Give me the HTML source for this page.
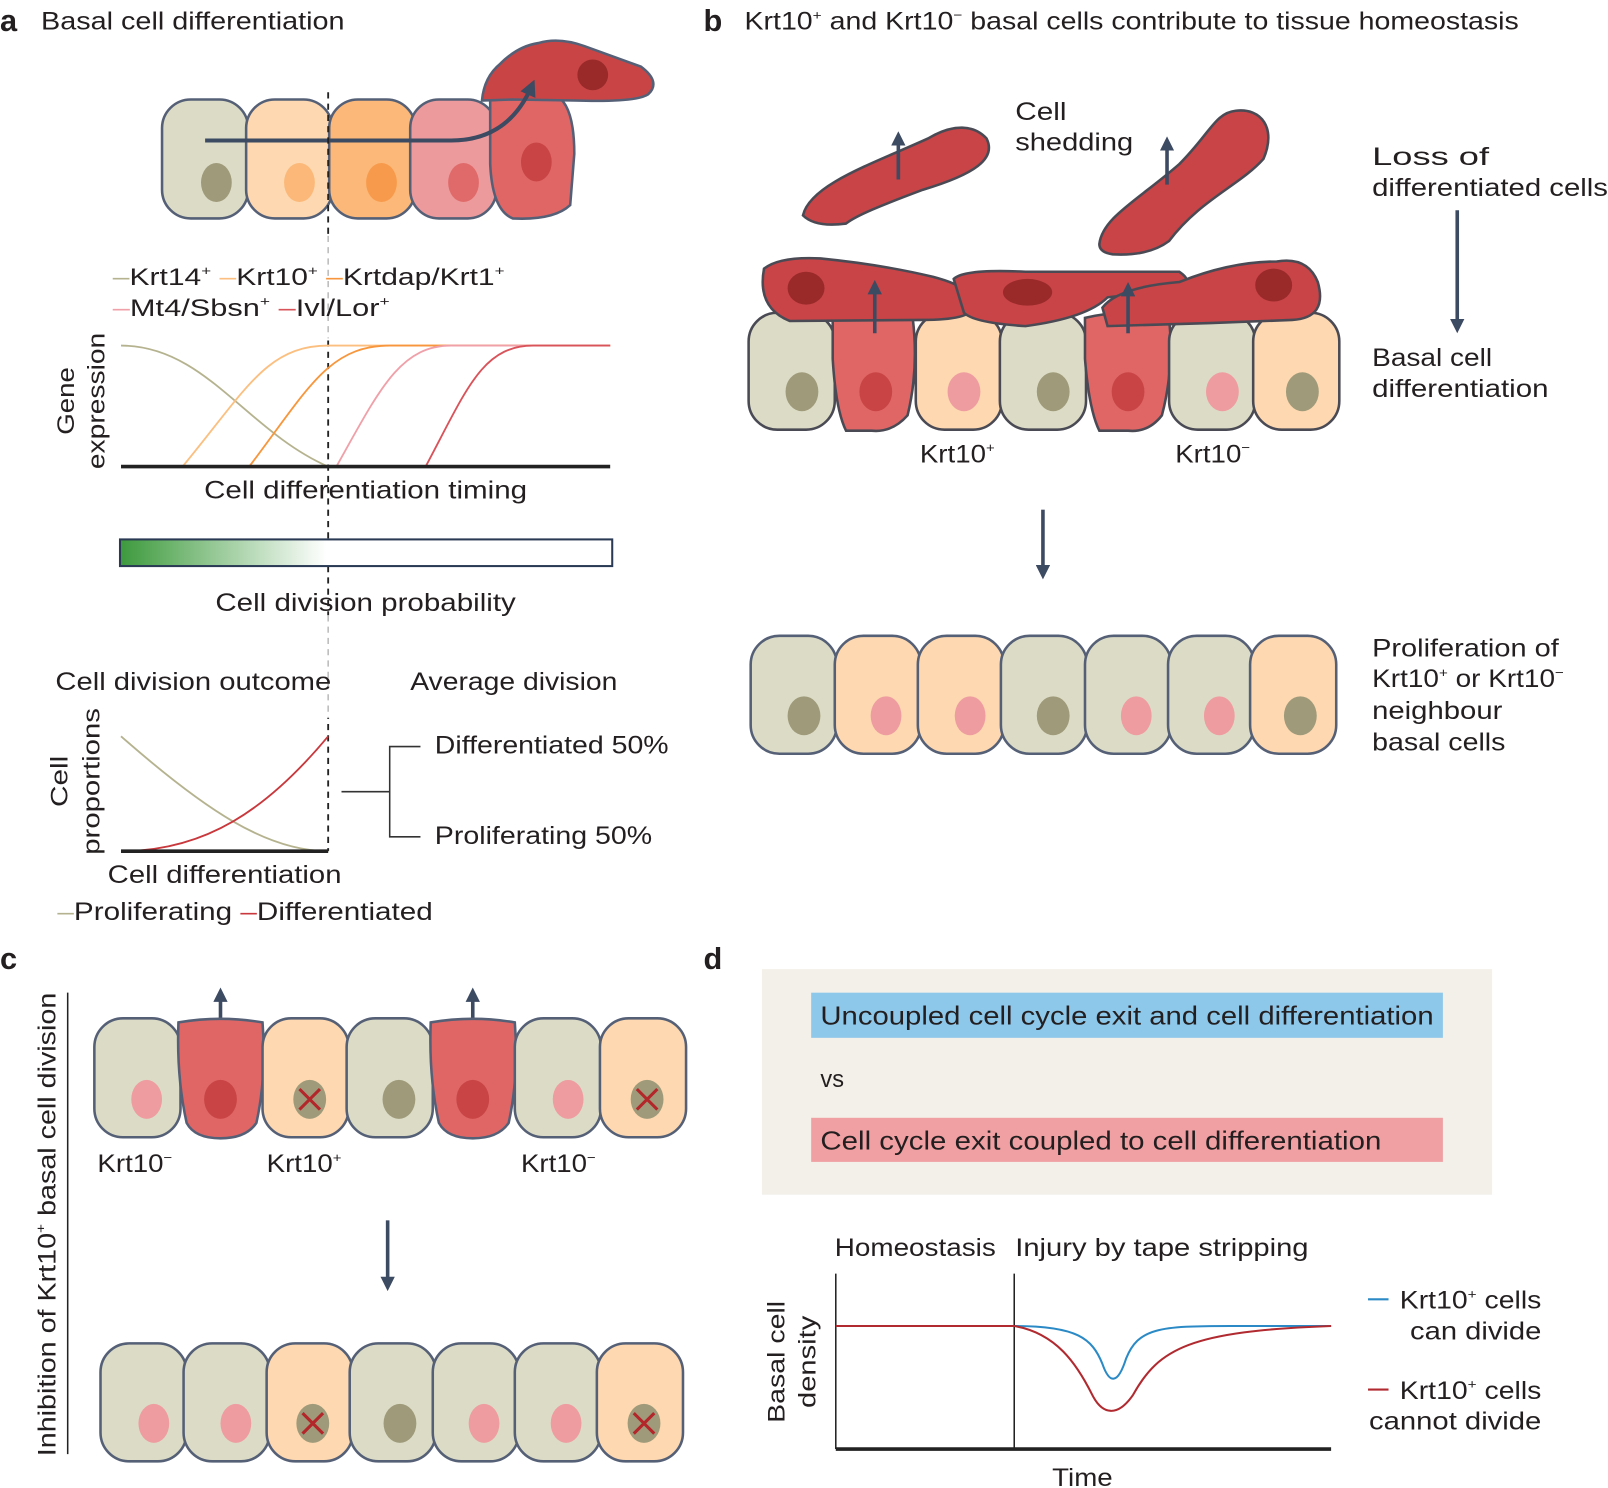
<!DOCTYPE html>
<html><head><meta charset="utf-8"><style>
html,body{margin:0;padding:0;background:#fff}
svg{display:block}
text{font-family:"Liberation Sans",sans-serif;fill:#231f20}
</style></head><body>
<svg width="1608" height="1488" viewBox="0 0 1568 1451" xmlns="http://www.w3.org/2000/svg">
<defs>
<linearGradient id="g1" x1="0" x2="1"><stop offset="0" stop-color="#3d9a3d"/><stop offset="0.42" stop-color="#ffffff"/><stop offset="1" stop-color="#fff"/></linearGradient>
<marker id="ah" viewBox="0 0 10 10" refX="5" refY="5" markerWidth="4" markerHeight="4" orient="auto"><path d="M0,0 L10,5 L0,10 Z" fill="#3c4a62"/></marker>
</defs>
<g stroke="#556077" stroke-width="2.5">
<rect x="158" y="97" width="84" height="116" rx="28" fill="#dcdcc6"/>
<rect x="240" y="97" width="84" height="116" rx="28" fill="#fdd8b0"/>
<rect x="321" y="97" width="84" height="116" rx="28" fill="#fbb878"/>
<rect x="400" y="97" width="84" height="116" rx="28" fill="#ec9a9c"/>
<path d="M478,98 L540,92 Q560,100 560,150 L556,200 Q540,215 500,213 Q480,205 478,160 Z" fill="#e06666"/>
<path d="M470,98 Q472,75 488,62 Q505,45 525,42 Q545,36 570,45 L625,65 Q645,80 632,92 Q620,100 560,98 L500,97 Z" fill="#c94545"/>
</g>
<g stroke="none">
<ellipse cx="211" cy="178" rx="15" ry="19" fill="#9e9a7a"/>
<ellipse cx="292" cy="178" rx="15" ry="19" fill="#fbb878"/>
<ellipse cx="372" cy="178" rx="15" ry="19" fill="#f79a4c"/>
<ellipse cx="452" cy="178" rx="15" ry="19" fill="#e06a6a"/>
<ellipse cx="523" cy="158" rx="15" ry="19" fill="#c94545"/>
<ellipse cx="578" cy="73" rx="15" ry="15" fill="#9a2a2a"/>
</g>
<path d="M200,137 L440,137 Q495,137 518,85" stroke="#3c4a62" stroke-width="4" fill="none" marker-end="url(#ah)"/>
<line x1="320" y1="90" x2="320" y2="830" stroke="#222" stroke-width="1.8" stroke-dasharray="6,5"/>
<line x1="320" y1="230" x2="320" y2="330" stroke="#fff" stroke-width="3"/>
<line x1="320" y1="230" x2="320" y2="330" stroke="#bbb" stroke-width="1.5" stroke-dasharray="6,5"/>
<line x1="320" y1="600" x2="320" y2="700" stroke="#fff" stroke-width="3"/>
<line x1="320" y1="600" x2="320" y2="700" stroke="#bbb" stroke-width="1.5" stroke-dasharray="6,5"/>
<text x="0" y="30" font-size="30" font-weight="bold">a</text>
<text x="40" y="29" font-size="24" textLength="296" lengthAdjust="spacingAndGlyphs">Basal cell differentiation</text>
<g font-size="23">
<text x="110" y="278" textLength="382" lengthAdjust="spacingAndGlyphs"><tspan fill="#b5b38f">–</tspan>Krt14<tspan font-size="13" dy="-10">+</tspan><tspan dy="10"> </tspan><tspan fill="#fbbf80">–</tspan>Krt10<tspan font-size="13" dy="-10">+</tspan><tspan dy="10">  </tspan><tspan fill="#f7963c">–</tspan>Krtdap/Krt1<tspan font-size="13" dy="-10">+</tspan></text>
<text x="110" y="308" textLength="270" lengthAdjust="spacingAndGlyphs"><tspan fill="#f0a0a8">–</tspan>Mt4/Sbsn<tspan font-size="13" dy="-10">+</tspan><tspan dy="10"> </tspan><tspan fill="#d9535a">–</tspan>Ivl/Lor<tspan font-size="13" dy="-10">+</tspan></text>
</g>
<g fill="none" stroke-width="1.8">
<path d="M118,337 C200,337 240,420 320,455" stroke="#b5b38f"/>
<path d="M178,455 C240,380 260,337 320,337 L595,337" stroke="#fbbf80"/>
<path d="M243,455 C300,380 320,337 380,337 L595,337" stroke="#f7963c"/>
<path d="M328,455 C370,380 390,337 440,337 L595,337" stroke="#f0a0a8"/>
<path d="M415,455 C455,380 470,337 520,337 L595,337" stroke="#d9535a"/>
<path d="M118,718 C200,790 260,830 320,830" stroke="#b5b38f"/>
<path d="M118,830 C200,830 260,790 320,718" stroke="#c8383c"/>
</g>
<line x1="118" y1="455" x2="595" y2="455" stroke="#222" stroke-width="3.5"/>
<line x1="118" y1="830" x2="320" y2="830" stroke="#222" stroke-width="3.5"/>
<text transform="translate(72,391) rotate(-90)" font-size="23" text-anchor="middle" textLength="66" lengthAdjust="spacingAndGlyphs">Gene</text>
<text transform="translate(102,391) rotate(-90)" font-size="23" text-anchor="middle" textLength="133" lengthAdjust="spacingAndGlyphs">expression</text>
<text x="199" y="486" font-size="24" textLength="315" lengthAdjust="spacingAndGlyphs">Cell differentiation timing</text>
<rect x="117" y="526" width="480" height="26" fill="url(#g1)" stroke="#2a3a55" stroke-width="2"/>
<text x="210" y="596" font-size="24" textLength="293" lengthAdjust="spacingAndGlyphs">Cell division probability</text>
<text x="54" y="673" font-size="24" textLength="269" lengthAdjust="spacingAndGlyphs">Cell division outcome</text>
<text x="400" y="673" font-size="24" textLength="202" lengthAdjust="spacingAndGlyphs">Average division</text>
<text transform="translate(66,762) rotate(-90)" font-size="23" text-anchor="middle" textLength="50" lengthAdjust="spacingAndGlyphs">Cell</text>
<text transform="translate(97,762) rotate(-90)" font-size="23" text-anchor="middle" textLength="143" lengthAdjust="spacingAndGlyphs">proportions</text>
<path d="M333,772 L380,772 M410,728 L380,728 L380,816 L410,816" stroke="#333" stroke-width="1.5" fill="none"/>
<text x="424" y="735" font-size="24" textLength="228" lengthAdjust="spacingAndGlyphs">Differentiated 50%</text>
<text x="424" y="823" font-size="24" textLength="212" lengthAdjust="spacingAndGlyphs">Proliferating 50%</text>
<text x="105" y="861" font-size="24" textLength="228" lengthAdjust="spacingAndGlyphs">Cell differentiation</text>
<text x="56" y="897" font-size="24" textLength="366" lengthAdjust="spacingAndGlyphs"><tspan fill="#b5b38f">–</tspan>Proliferating <tspan fill="#c8383c">–</tspan>Differentiated</text>

<text x="686" y="30" font-size="30" font-weight="bold">b</text>
<text x="726" y="29" font-size="24" textLength="755" lengthAdjust="spacingAndGlyphs">Krt10<tspan font-size="13" dy="-10">+</tspan><tspan dy="10"> and Krt10</tspan><tspan font-size="13" dy="-10">−</tspan><tspan dy="10"> basal cells contribute to tissue homeostasis</tspan></text>
<g stroke="#4a4a55" stroke-width="2.5">
<path d="M783,210 C790,180 850,160 905,135 C930,120 950,122 962,135 C972,155 950,170 900,185 C860,200 835,210 825,218 Q795,222 783,210 Z" fill="#c84447"/>
<path d="M1072,238 C1075,212 1110,195 1150,160 C1180,130 1185,110 1205,108 C1230,105 1245,125 1232,155 C1210,180 1170,195 1140,235 Q1120,250 1085,248 Q1072,246 1072,238 Z" fill="#c84447"/>
<rect x="730" y="305" width="84" height="114" rx="28" fill="#dcdcc6"/>
<path d="M812,310 Q850,300 890,310 Q896,360 885,405 Q870,422 850,420 L825,420 Q815,400 812,350 Z" fill="#e06666"/>
<rect x="893" y="305" width="84" height="114" rx="28" fill="#fdd8b0"/>
<rect x="975" y="305" width="84" height="114" rx="28" fill="#dcdcc6"/>
<path d="M1058,310 Q1100,300 1140,310 Q1145,360 1133,405 Q1120,422 1100,420 L1072,420 Q1062,400 1058,350 Z" fill="#e06666"/>
<rect x="1140" y="305" width="84" height="114" rx="28" fill="#dcdcc6"/>
<rect x="1222" y="305" width="84" height="114" rx="28" fill="#fdd8b0"/>
<path d="M745,262 Q760,250 800,252 Q860,258 910,270 Q955,282 950,300 Q945,312 900,312 L770,313 Q738,300 745,262 Z" fill="#c84447"/>
<path d="M930,272 Q940,262 1000,265 L1150,265 Q1165,275 1150,282 L1080,290 Q1060,310 1000,318 Q950,315 940,305 Z" fill="#c84447"/>
<path d="M1075,300 Q1090,280 1150,275 Q1200,255 1245,255 Q1275,250 1285,275 Q1295,310 1260,312 L1180,315 L1080,318 Z" fill="#c84447"/>
</g>
<g stroke="none">
<ellipse cx="786" cy="281" rx="18" ry="16" fill="#9a2a2a"/>
<ellipse cx="1002" cy="285" rx="24" ry="13" fill="#9a2a2a"/>
<ellipse cx="1242" cy="278" rx="18" ry="16" fill="#9a2a2a"/>
<ellipse cx="782" cy="382" rx="16" ry="19" fill="#9e9a7a"/>
<ellipse cx="854" cy="382" rx="16" ry="19" fill="#c94545"/>
<ellipse cx="940" cy="382" rx="16" ry="19" fill="#ee9ca0"/>
<ellipse cx="1027" cy="382" rx="16" ry="19" fill="#9e9a7a"/>
<ellipse cx="1100" cy="382" rx="16" ry="19" fill="#c94545"/>
<ellipse cx="1192" cy="382" rx="16" ry="19" fill="#ee9ca0"/>
<ellipse cx="1270" cy="382" rx="16" ry="19" fill="#9e9a7a"/>
</g>
<g stroke="#3c4a62" stroke-width="3.5" marker-end="url(#ah)">
<line x1="876" y1="175" x2="876" y2="135"/>
<line x1="1138" y1="180" x2="1138" y2="140"/>
<line x1="853" y1="325" x2="853" y2="280"/>
<line x1="1100" y1="325" x2="1100" y2="282"/>
<line x1="1421" y1="205" x2="1421" y2="318"/>
<line x1="1017" y1="497" x2="1017" y2="558"/>
<line x1="378" y1="1190" x2="378" y2="1252"/>
<line x1="215" y1="1012" x2="215" y2="970"/>
<line x1="461" y1="1012" x2="461" y2="970"/>
</g>
<g font-size="24">
<text x="990" y="117" textLength="50" lengthAdjust="spacingAndGlyphs">Cell</text>
<text x="990" y="147" textLength="115" lengthAdjust="spacingAndGlyphs">shedding</text>
<text x="897" y="451" textLength="73" lengthAdjust="spacingAndGlyphs">Krt10<tspan font-size="13" dy="-10">+</tspan></text>
<text x="1146" y="451" textLength="73" lengthAdjust="spacingAndGlyphs">Krt10<tspan font-size="13" dy="-10">−</tspan></text>
<text x="1338" y="161" textLength="114" lengthAdjust="spacingAndGlyphs">Loss of</text>
<text x="1338" y="191" textLength="230" lengthAdjust="spacingAndGlyphs">differentiated cells</text>
<text x="1338" y="357" textLength="117" lengthAdjust="spacingAndGlyphs">Basal cell</text>
<text x="1338" y="387" textLength="172" lengthAdjust="spacingAndGlyphs">differentiation</text>
<text x="1338" y="640" textLength="182" lengthAdjust="spacingAndGlyphs">Proliferation of</text>
<text x="1338" y="670" textLength="187" lengthAdjust="spacingAndGlyphs">Krt10<tspan font-size="13" dy="-10">+</tspan><tspan dy="10"> or Krt10</tspan><tspan font-size="13" dy="-10">−</tspan></text>
<text x="1338" y="701" textLength="127" lengthAdjust="spacingAndGlyphs">neighbour</text>
<text x="1338" y="732" textLength="130" lengthAdjust="spacingAndGlyphs">basal cells</text>
</g>
<g stroke="#556077" stroke-width="2.5">
<rect x="732" y="620" width="84" height="115" rx="28" fill="#dcdcc6"/>
<rect x="814" y="620" width="84" height="115" rx="28" fill="#fdd8b0"/>
<rect x="895" y="620" width="84" height="115" rx="28" fill="#fdd8b0"/>
<rect x="976" y="620" width="84" height="115" rx="28" fill="#dcdcc6"/>
<rect x="1058" y="620" width="84" height="115" rx="28" fill="#dcdcc6"/>
<rect x="1139" y="620" width="84" height="115" rx="28" fill="#dcdcc6"/>
<rect x="1219" y="620" width="84" height="115" rx="28" fill="#fdd8b0"/>
</g>
<g stroke="none">
<ellipse cx="784" cy="698" rx="16" ry="19" fill="#9e9a7a"/>
<ellipse cx="864" cy="698" rx="15" ry="19" fill="#ee9ca0"/>
<ellipse cx="946" cy="698" rx="15" ry="19" fill="#ee9ca0"/>
<ellipse cx="1027" cy="698" rx="16" ry="19" fill="#9e9a7a"/>
<ellipse cx="1108" cy="698" rx="15" ry="19" fill="#ee9ca0"/>
<ellipse cx="1189" cy="698" rx="15" ry="19" fill="#ee9ca0"/>
<ellipse cx="1268" cy="698" rx="16" ry="19" fill="#9e9a7a"/>
</g>

<text x="0" y="945" font-size="30" font-weight="bold">c</text>
<line x1="66" y1="968" x2="66" y2="1418" stroke="#222" stroke-width="1.5"/>
<text transform="translate(54,1194) rotate(-90)" font-size="24" text-anchor="middle" textLength="452" lengthAdjust="spacingAndGlyphs">Inhibition of Krt10<tspan font-size="13" dy="-10">+</tspan><tspan dy="10"> basal cell division</tspan></text>
<g stroke="#556077" stroke-width="2.5">
<rect x="92" y="993" width="84" height="116" rx="28" fill="#dcdcc6"/>
<path d="M174,997 Q215,990 256,997 Q260,1050 250,1095 Q240,1110 215,1110 Q190,1110 182,1095 Q172,1050 174,997 Z" fill="#e06666"/>
<rect x="256" y="993" width="84" height="116" rx="28" fill="#fdd8b0"/>
<rect x="338" y="993" width="84" height="116" rx="28" fill="#dcdcc6"/>
<path d="M420,997 Q461,990 502,997 Q506,1050 496,1095 Q486,1110 461,1110 Q436,1110 428,1095 Q418,1050 420,997 Z" fill="#e06666"/>
<rect x="502" y="993" width="84" height="116" rx="28" fill="#dcdcc6"/>
<rect x="585" y="993" width="84" height="116" rx="28" fill="#fdd8b0"/>
<rect x="98" y="1310" width="84" height="115" rx="28" fill="#dcdcc6"/>
<rect x="179" y="1310" width="84" height="115" rx="28" fill="#dcdcc6"/>
<rect x="260" y="1310" width="84" height="115" rx="28" fill="#fdd8b0"/>
<rect x="341" y="1310" width="84" height="115" rx="28" fill="#dcdcc6"/>
<rect x="422" y="1310" width="84" height="115" rx="28" fill="#dcdcc6"/>
<rect x="502" y="1310" width="84" height="115" rx="28" fill="#dcdcc6"/>
<rect x="582" y="1310" width="84" height="115" rx="28" fill="#fdd8b0"/>
</g>
<g stroke="none">
<ellipse cx="143" cy="1072" rx="15" ry="19" fill="#ee9ca0"/>
<ellipse cx="215" cy="1072" rx="16" ry="19" fill="#c94545"/>
<ellipse cx="302" cy="1072" rx="16" ry="19" fill="#9e9a7a"/>
<ellipse cx="389" cy="1072" rx="16" ry="19" fill="#9e9a7a"/>
<ellipse cx="461" cy="1072" rx="16" ry="19" fill="#c94545"/>
<ellipse cx="554" cy="1072" rx="15" ry="19" fill="#ee9ca0"/>
<ellipse cx="631" cy="1072" rx="16" ry="19" fill="#9e9a7a"/>
<ellipse cx="150" cy="1388" rx="15" ry="19" fill="#ee9ca0"/>
<ellipse cx="230" cy="1388" rx="15" ry="19" fill="#ee9ca0"/>
<ellipse cx="305" cy="1388" rx="16" ry="19" fill="#9e9a7a"/>
<ellipse cx="390" cy="1388" rx="16" ry="19" fill="#9e9a7a"/>
<ellipse cx="472" cy="1388" rx="15" ry="19" fill="#ee9ca0"/>
<ellipse cx="552" cy="1388" rx="15" ry="19" fill="#ee9ca0"/>
<ellipse cx="628" cy="1388" rx="16" ry="19" fill="#9e9a7a"/>
</g>
<g stroke="#b3262a" stroke-width="3">
<path d="M292,1062 L312,1082 M312,1062 L292,1082"/>
<path d="M621,1062 L641,1082 M641,1062 L621,1082"/>
<path d="M295,1378 L315,1398 M315,1378 L295,1398"/>
<path d="M618,1378 L638,1398 M638,1378 L618,1398"/>
</g>
<g font-size="24">
<text x="95" y="1143" textLength="73" lengthAdjust="spacingAndGlyphs">Krt10<tspan font-size="13" dy="-10">−</tspan></text>
<text x="260" y="1143" textLength="73" lengthAdjust="spacingAndGlyphs">Krt10<tspan font-size="13" dy="-10">+</tspan></text>
<text x="508" y="1143" textLength="73" lengthAdjust="spacingAndGlyphs">Krt10<tspan font-size="13" dy="-10">−</tspan></text>
</g>

<text x="686" y="945" font-size="30" font-weight="bold">d</text>
<rect x="743" y="945" width="712" height="220" fill="#f3f0e9"/>
<rect x="791" y="968" width="616" height="44" fill="#8dc7ea"/>
<text x="800" y="999" font-size="25" textLength="598" lengthAdjust="spacingAndGlyphs">Uncoupled cell cycle exit and cell differentiation</text>
<text x="800" y="1060" font-size="23">vs</text>
<rect x="791" y="1090" width="616" height="43" fill="#f0a0a2"/>
<text x="800" y="1121" font-size="25" textLength="547" lengthAdjust="spacingAndGlyphs">Cell cycle exit coupled to cell differentiation</text>
<text x="814" y="1225" font-size="24" textLength="157" lengthAdjust="spacingAndGlyphs">Homeostasis</text>
<text x="990" y="1225" font-size="24" textLength="286" lengthAdjust="spacingAndGlyphs">Injury by tape stripping</text>
<line x1="815" y1="1242" x2="815" y2="1413" stroke="#222" stroke-width="1.5"/>
<line x1="989" y1="1242" x2="989" y2="1413" stroke="#222" stroke-width="1.5"/>
<line x1="815" y1="1413" x2="1298" y2="1413" stroke="#222" stroke-width="3.5"/>
<path d="M989,1293 C1050,1293 1065,1305 1075,1330 C1082,1350 1090,1350 1098,1325 C1110,1295 1130,1293 1200,1293 L1298,1293" stroke="#2b8ac6" stroke-width="2" fill="none"/>
<path d="M815,1293 L989,1293 C1030,1300 1050,1330 1065,1360 C1075,1380 1090,1382 1105,1360 C1130,1315 1160,1298 1298,1293" stroke="#b02a30" stroke-width="2" fill="none"/>
<text transform="translate(765,1328) rotate(-90)" font-size="23" text-anchor="middle" textLength="119" lengthAdjust="spacingAndGlyphs">Basal cell</text>
<text transform="translate(795,1328) rotate(-90)" font-size="23" text-anchor="middle" textLength="90" lengthAdjust="spacingAndGlyphs">density</text>
<text x="1026" y="1449" font-size="24" textLength="59" lengthAdjust="spacingAndGlyphs">Time</text>
<line x1="1334" y1="1267" x2="1354" y2="1267" stroke="#2b8ac6" stroke-width="2"/>
<line x1="1334" y1="1355" x2="1354" y2="1355" stroke="#b02a30" stroke-width="2"/>
<g font-size="24">
<text x="1365" y="1276" textLength="138" lengthAdjust="spacingAndGlyphs">Krt10<tspan font-size="13" dy="-10">+</tspan><tspan dy="10"> cells</tspan></text>
<text x="1375" y="1306" textLength="128" lengthAdjust="spacingAndGlyphs">can divide</text>
<text x="1365" y="1364" textLength="138" lengthAdjust="spacingAndGlyphs">Krt10<tspan font-size="13" dy="-10">+</tspan><tspan dy="10"> cells</tspan></text>
<text x="1335" y="1394" textLength="168" lengthAdjust="spacingAndGlyphs">cannot divide</text>
</g>
</svg>
</body></html>
